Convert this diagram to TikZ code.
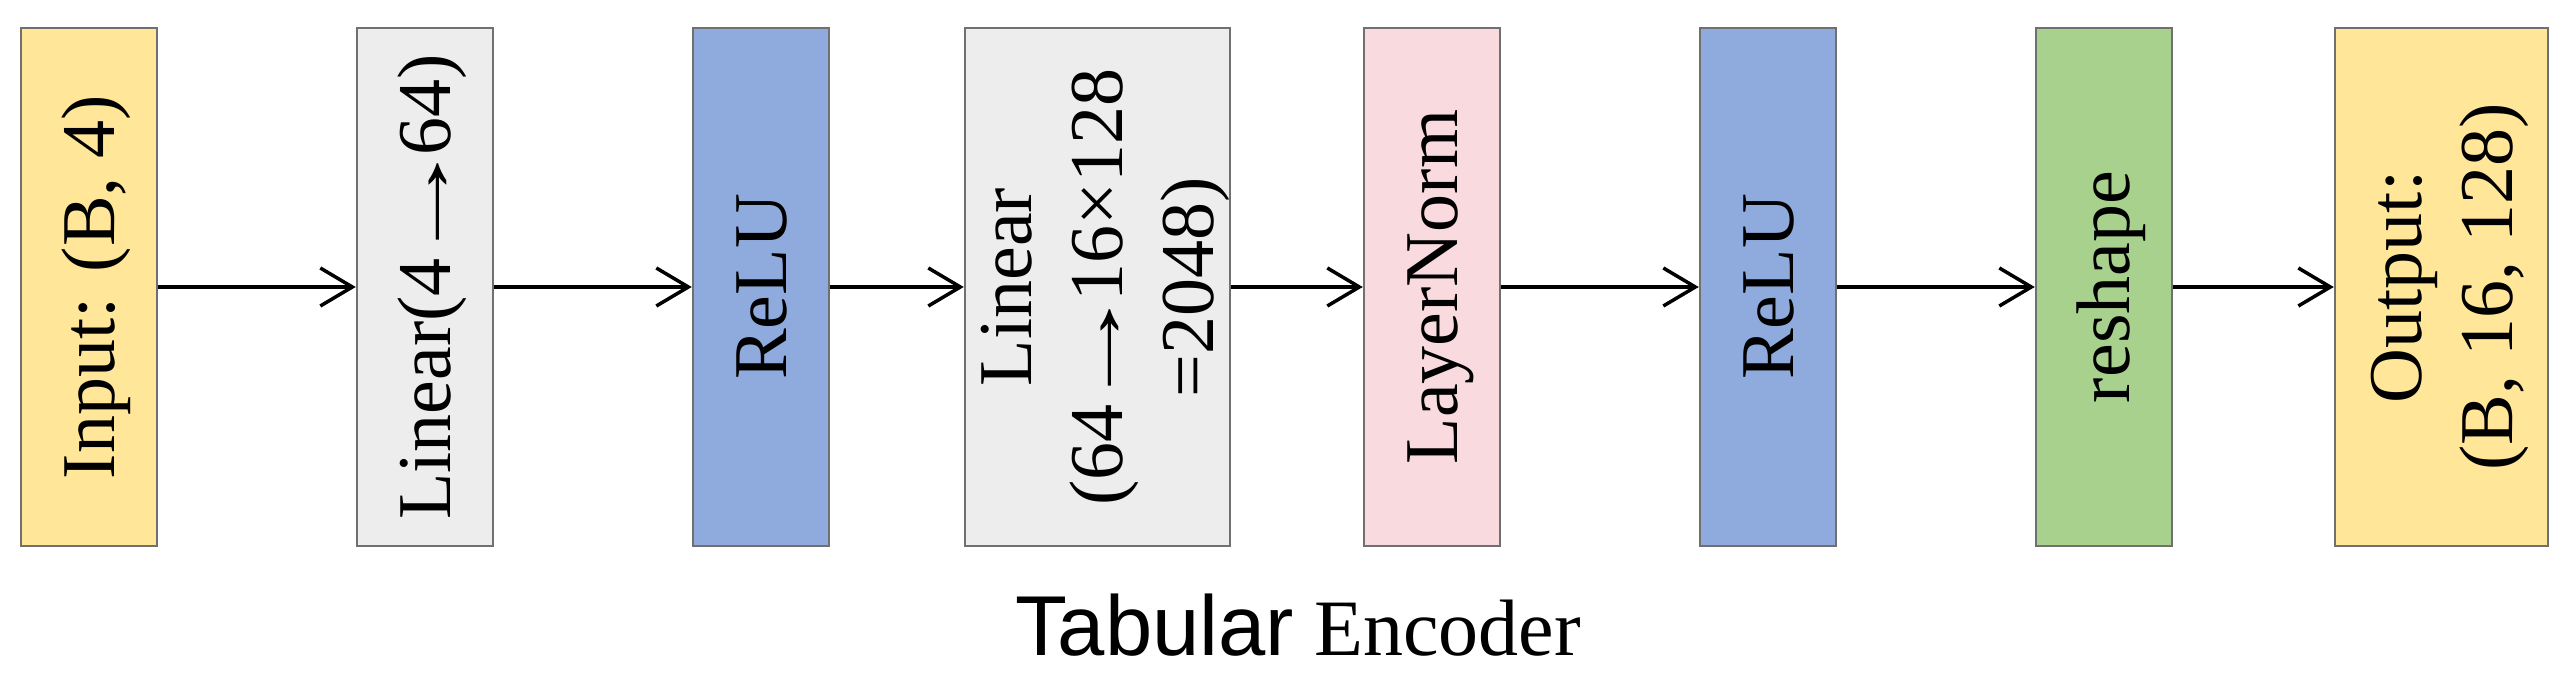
\documentclass[tikz,border=0pt]{standalone}
\usepackage{fontspec}
\setmainfont{Liberation Serif}
\setsansfont{Liberation Sans}
\usepackage{graphicx}
\usetikzlibrary{arrows.meta}
\definecolor{cyellow}{HTML}{FFE699}
\definecolor{cgray}{HTML}{EDEDED}
\definecolor{cblue}{HTML}{8FAADC}
\definecolor{cpink}{HTML}{F9DADF}
\definecolor{cgreen}{HTML}{A9D18E}
\definecolor{cborder}{HTML}{707070}
% rotated label: #1 = number of lines minus one, #2 = lines
\newcommand\vtxt[2]{\rotatebox{90}{\raisebox{\dimexpr 45.5pt*#1-25pt\relax}[0pt][0pt]{\begin{tabular}[t]{@{}c@{}}#2\end{tabular}}}}
\newcommand\rarr{\kern-0.11em\scalebox{1.7}[1]{→}\kern-0.24em}
\begin{document}
\begin{tikzpicture}[x=1pt,y=-1pt,
  layer/.style={draw=cborder, line width=2.5pt, rectangle, inner sep=0pt,
    minimum height=518pt, minimum width=136pt,
    font=\fontsize{76}{91}\selectfont},
  conn/.style={line width=3.5pt, -{Straight Barb[length=32pt,width=38pt]}}]
\useasboundingbox (0,0) rectangle (2569,684);
\node[layer, fill=cyellow] (in) at (89,287) {\vtxt{0}{Input: (B, 4)}};
\node[layer, fill=cgray] (lin1) at (425,287) {\vtxt{0}{Linear(4\rarr64)}};
\node[layer, fill=cblue] (relu1) at (761,287) {\vtxt{0}{ReLU}};
\node[layer, fill=cgray, minimum width=265pt] (lin2) at (1097.5,287) {\vtxt{2}{Linear\\(64\rarr16×128\\=2048)}};
\node[layer, fill=cpink] (ln) at (1432,287) {\vtxt{0}{LayerNorm}};
\node[layer, fill=cblue] (relu2) at (1768,287) {\vtxt{0}{ReLU}};
\node[layer, fill=cgreen] (resh) at (2104,287) {\vtxt{0}{reshape}};
\node[layer, fill=cyellow, minimum width=213pt] (out) at (2441.5,287) {\vtxt{1}{Output:\\(B, 16, 128)}};
\draw[conn] (in) -- (lin1);
\draw[conn] (lin1) -- (relu1);
\draw[conn] (relu1) -- (lin2);
\draw[conn] (lin2) -- (ln);
\draw[conn] (ln) -- (relu2);
\draw[conn] (relu2) -- (resh);
\draw[conn] (resh) -- (out);
\node[anchor=base, inner sep=0pt, font=\fontsize{80}{96}\selectfont] (title) at (1298,655) {{\fontsize{85}{100}\selectfont\sffamily Tabular} Encoder};
\end{tikzpicture}
\end{document}
